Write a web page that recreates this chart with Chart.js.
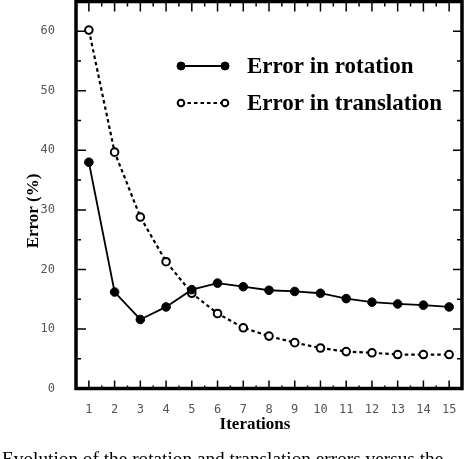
<!DOCTYPE html>
<html>
<head>
<meta charset="utf-8">
<script src="https://cdn.jsdelivr.net/npm/chart.js@4"></script>
<style>
  html, body { margin: 0; padding: 0; background: #fff; }
  #wrap { width: 474px; height: 459px; position: relative; overflow: hidden; }
</style>
</head>
<body>
<div id="wrap"><canvas id="c" width="474" height="459"></canvas></div>
<script>
const iterations = [1,2,3,4,5,6,7,8,9,10,11,12,13,14,15];
const rotationError = [38.0,16.2,11.6,13.7,16.6,17.7,17.1,16.5,16.3,16.0,15.1,14.5,14.2,14.0,13.7];
const translationError = [60.2,39.7,28.8,21.3,16.0,12.6,10.2,8.8,7.7,6.8,6.2,6.0,5.7,5.7,5.7];
const yTickValues = [0,10,20,30,40,50,60];
const seriesNames = ['Error in rotation', 'Error in translation'];
const xTitle = 'Iterations';
const yTitle = 'Error (%)';
const caption = 'Evolution of the rotation and translation errors versus the';

const frame = {
  id: 'frame',
  beforeDatasetsDraw(chart) {
    const {ctx, chartArea: a, scales: {x, y}} = chart;
    ctx.save();
    ctx.strokeStyle = '#000';
    ctx.lineWidth = 1.5;
    ctx.beginPath();
    for (let v = 1; v <= 15; v += 0.5) {
      const px = x.getPixelForValue(v);
      const major = Number.isInteger(v);
      const bl = major ? 8 : 3;
      const tl = major ? 10 : 5;
      ctx.moveTo(px, a.bottom); ctx.lineTo(px, a.bottom - bl);
      ctx.moveTo(px, a.top); ctx.lineTo(px, a.top + tl);
    }
    for (let v = 5; v < 65; v += 5) {
      const py = y.getPixelForValue(v);
      const major = v % 10 === 0;
      ctx.moveTo(a.left, py); ctx.lineTo(a.left + (major ? 10 : 5), py);
      ctx.moveTo(a.right, py); ctx.lineTo(a.right - (major ? 9 : 5), py);
    }
    ctx.stroke();
    ctx.lineWidth = 3.5;
    ctx.strokeRect(a.left, a.top, a.right - a.left, a.bottom - a.top);
    ctx.restore();
  },
  afterDraw(chart) {
    const {ctx} = chart;
    ctx.save();
    ctx.fillStyle = '#000';
    ctx.font = 'bold 17px "Liberation Serif"';
    ctx.textAlign = 'center';
    ctx.textBaseline = 'middle';
    ctx.fillText(xTitle, 255, 425);
    ctx.save();
    ctx.translate(34, 211);
    ctx.rotate(-Math.PI / 2);
    ctx.fillText(yTitle, 0, 0);
    ctx.restore();
    const rows = [66, 103];
    chart.data.datasets.forEach((ds, i) => {
      const yy = rows[i];
      ctx.save();
      ctx.lineWidth = ds.borderWidth;
      ctx.setLineDash(ds.borderDash || []);
      ctx.strokeStyle = '#000';
      ctx.beginPath(); ctx.moveTo(181, yy); ctx.lineTo(225, yy); ctx.stroke();
      ctx.setLineDash([]);
      const r = i === 0 ? 4 : 3.3;
      [181, 225].forEach(px => {
        ctx.beginPath(); ctx.arc(px, yy, r, 0, Math.PI * 2);
        ctx.fillStyle = ds.pointBackgroundColor; ctx.fill();
        ctx.lineWidth = ds.pointBorderWidth; ctx.strokeStyle = '#000'; ctx.stroke();
      });
      ctx.restore();
      ctx.font = 'bold 23px "Liberation Serif"';
      ctx.textAlign = 'left';
      ctx.textBaseline = 'alphabetic';
      ctx.fillStyle = '#000';
      ctx.fillText(ds.label, 247, yy + 6.5);
    });
    ctx.font = '19.3px "Liberation Serif"';
    ctx.textAlign = 'left';
    ctx.textBaseline = 'alphabetic';
    ctx.fillText(caption, 2, 465);
    ctx.restore();
  }
};

new Chart(document.getElementById('c'), {
  type: 'line',
  data: {
    datasets: [
      {
        label: seriesNames[0],
        data: iterations.map((v, i) => ({x: v, y: rotationError[i]})),
        borderColor: '#000', borderWidth: 1.8,
        pointRadius: 4.3, pointBackgroundColor: '#000', pointBorderColor: '#000', pointBorderWidth: 1,
        tension: 0
      },
      {
        label: seriesNames[1],
        data: iterations.map((v, i) => ({x: v, y: translationError[i]})),
        borderColor: '#000', borderWidth: 2.2, borderDash: [3.5, 3],
        pointRadius: 3.8, pointBackgroundColor: '#fff', pointBorderColor: '#000', pointBorderWidth: 2,
        tension: 0
      }
    ]
  },
  options: {
    responsive: false,
    animation: false,
    devicePixelRatio: 1,
    layout: { autoPadding: false, padding: { top: 1.5, right: 12, left: 0, bottom: 0 } },
    plugins: { legend: { display: false }, tooltip: { enabled: false } },
    scales: {
      x: {
        type: 'linear', min: 0.5, max: 15.5,
        grid: { display: false }, border: { display: false },
        afterBuildTicks(s) { s.ticks = iterations.map(v => ({value: v})); },
        afterFit(s) { s.height = 70.5; s.paddingLeft = 0; s.paddingRight = 0; },
        ticks: { padding: 6, color: '#555', font: { family: '"DejaVu Sans Mono"', size: 12 }, maxRotation: 0, autoSkip: false }
      },
      y: {
        min: 0, max: 65,
        grid: { display: false }, border: { display: false },
        afterBuildTicks(s) { s.ticks = yTickValues.map(v => ({value: v})); },
        afterFit(s) { s.width = 76; s.paddingTop = 0; s.paddingBottom = 0; },
        ticks: { padding: 13, color: '#555', font: { family: '"DejaVu Sans Mono"', size: 12 } }
      }
    }
  },
  plugins: [frame]
});
</script>
</body>
</html>
